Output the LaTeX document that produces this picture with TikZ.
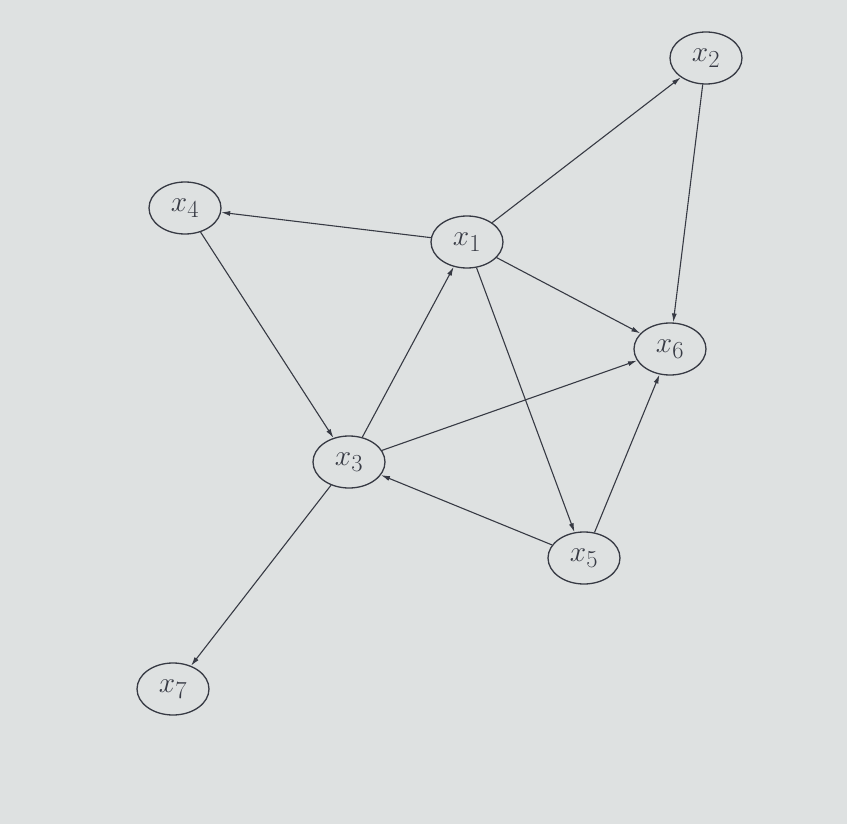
\documentclass[tikz,border=0pt]{standalone}
\usepackage{graphicx}
\usetikzlibrary{shapes.geometric,arrows.meta}
\definecolor{bg}{RGB}{222,225,225}
\definecolor{ink}{RGB}{55,58,68}
\newcommand{\lbl}[1]{\scalebox{1.18}{$#1$}}
\begin{document}
\begin{tikzpicture}[x=1pt,y=-1pt,
  vtx/.style={ellipse,draw=ink,line width=1.3pt,minimum width=72pt,minimum height=52pt,inner sep=0pt,text=ink,font=\fontsize{24.88}{30}\selectfont},
  edge/.style={draw=ink,line width=1.1pt,-{Latex[length=9pt,width=5pt]}}]
\fill[bg] (0,0) rectangle (847,824);
\useasboundingbox (0,0) rectangle (847,824);
\node[vtx] (x2) at (706,58) {\lbl{x_2}};
\node[vtx] (x4) at (185,208) {\lbl{x_4}};
\node[vtx] (x1) at (467,242) {\lbl{x_1}};
\node[vtx] (x6) at (670,349) {\lbl{x_6}};
\node[vtx] (x3) at (349,462) {\lbl{x_3}};
\node[vtx] (x5) at (584,558) {\lbl{x_5}};
\node[vtx] (x7) at (173,689) {\lbl{x_7}};
\draw[edge] (x1) -- (x2);
\draw[edge] (x1) -- (x4);
\draw[edge] (x2) -- (x6);
\draw[edge] (x1) -- (x6);
\draw[edge] (x1) -- (x5);
\draw[edge] (x4) -- (x3);
\draw[edge] (x3) -- (x1);
\draw[edge] (x3) -- (x6);
\draw[edge] (x5) -- (x3);
\draw[edge] (x5) -- (x6);
\draw[edge] (x3) -- (x7);
\end{tikzpicture}
\end{document}
